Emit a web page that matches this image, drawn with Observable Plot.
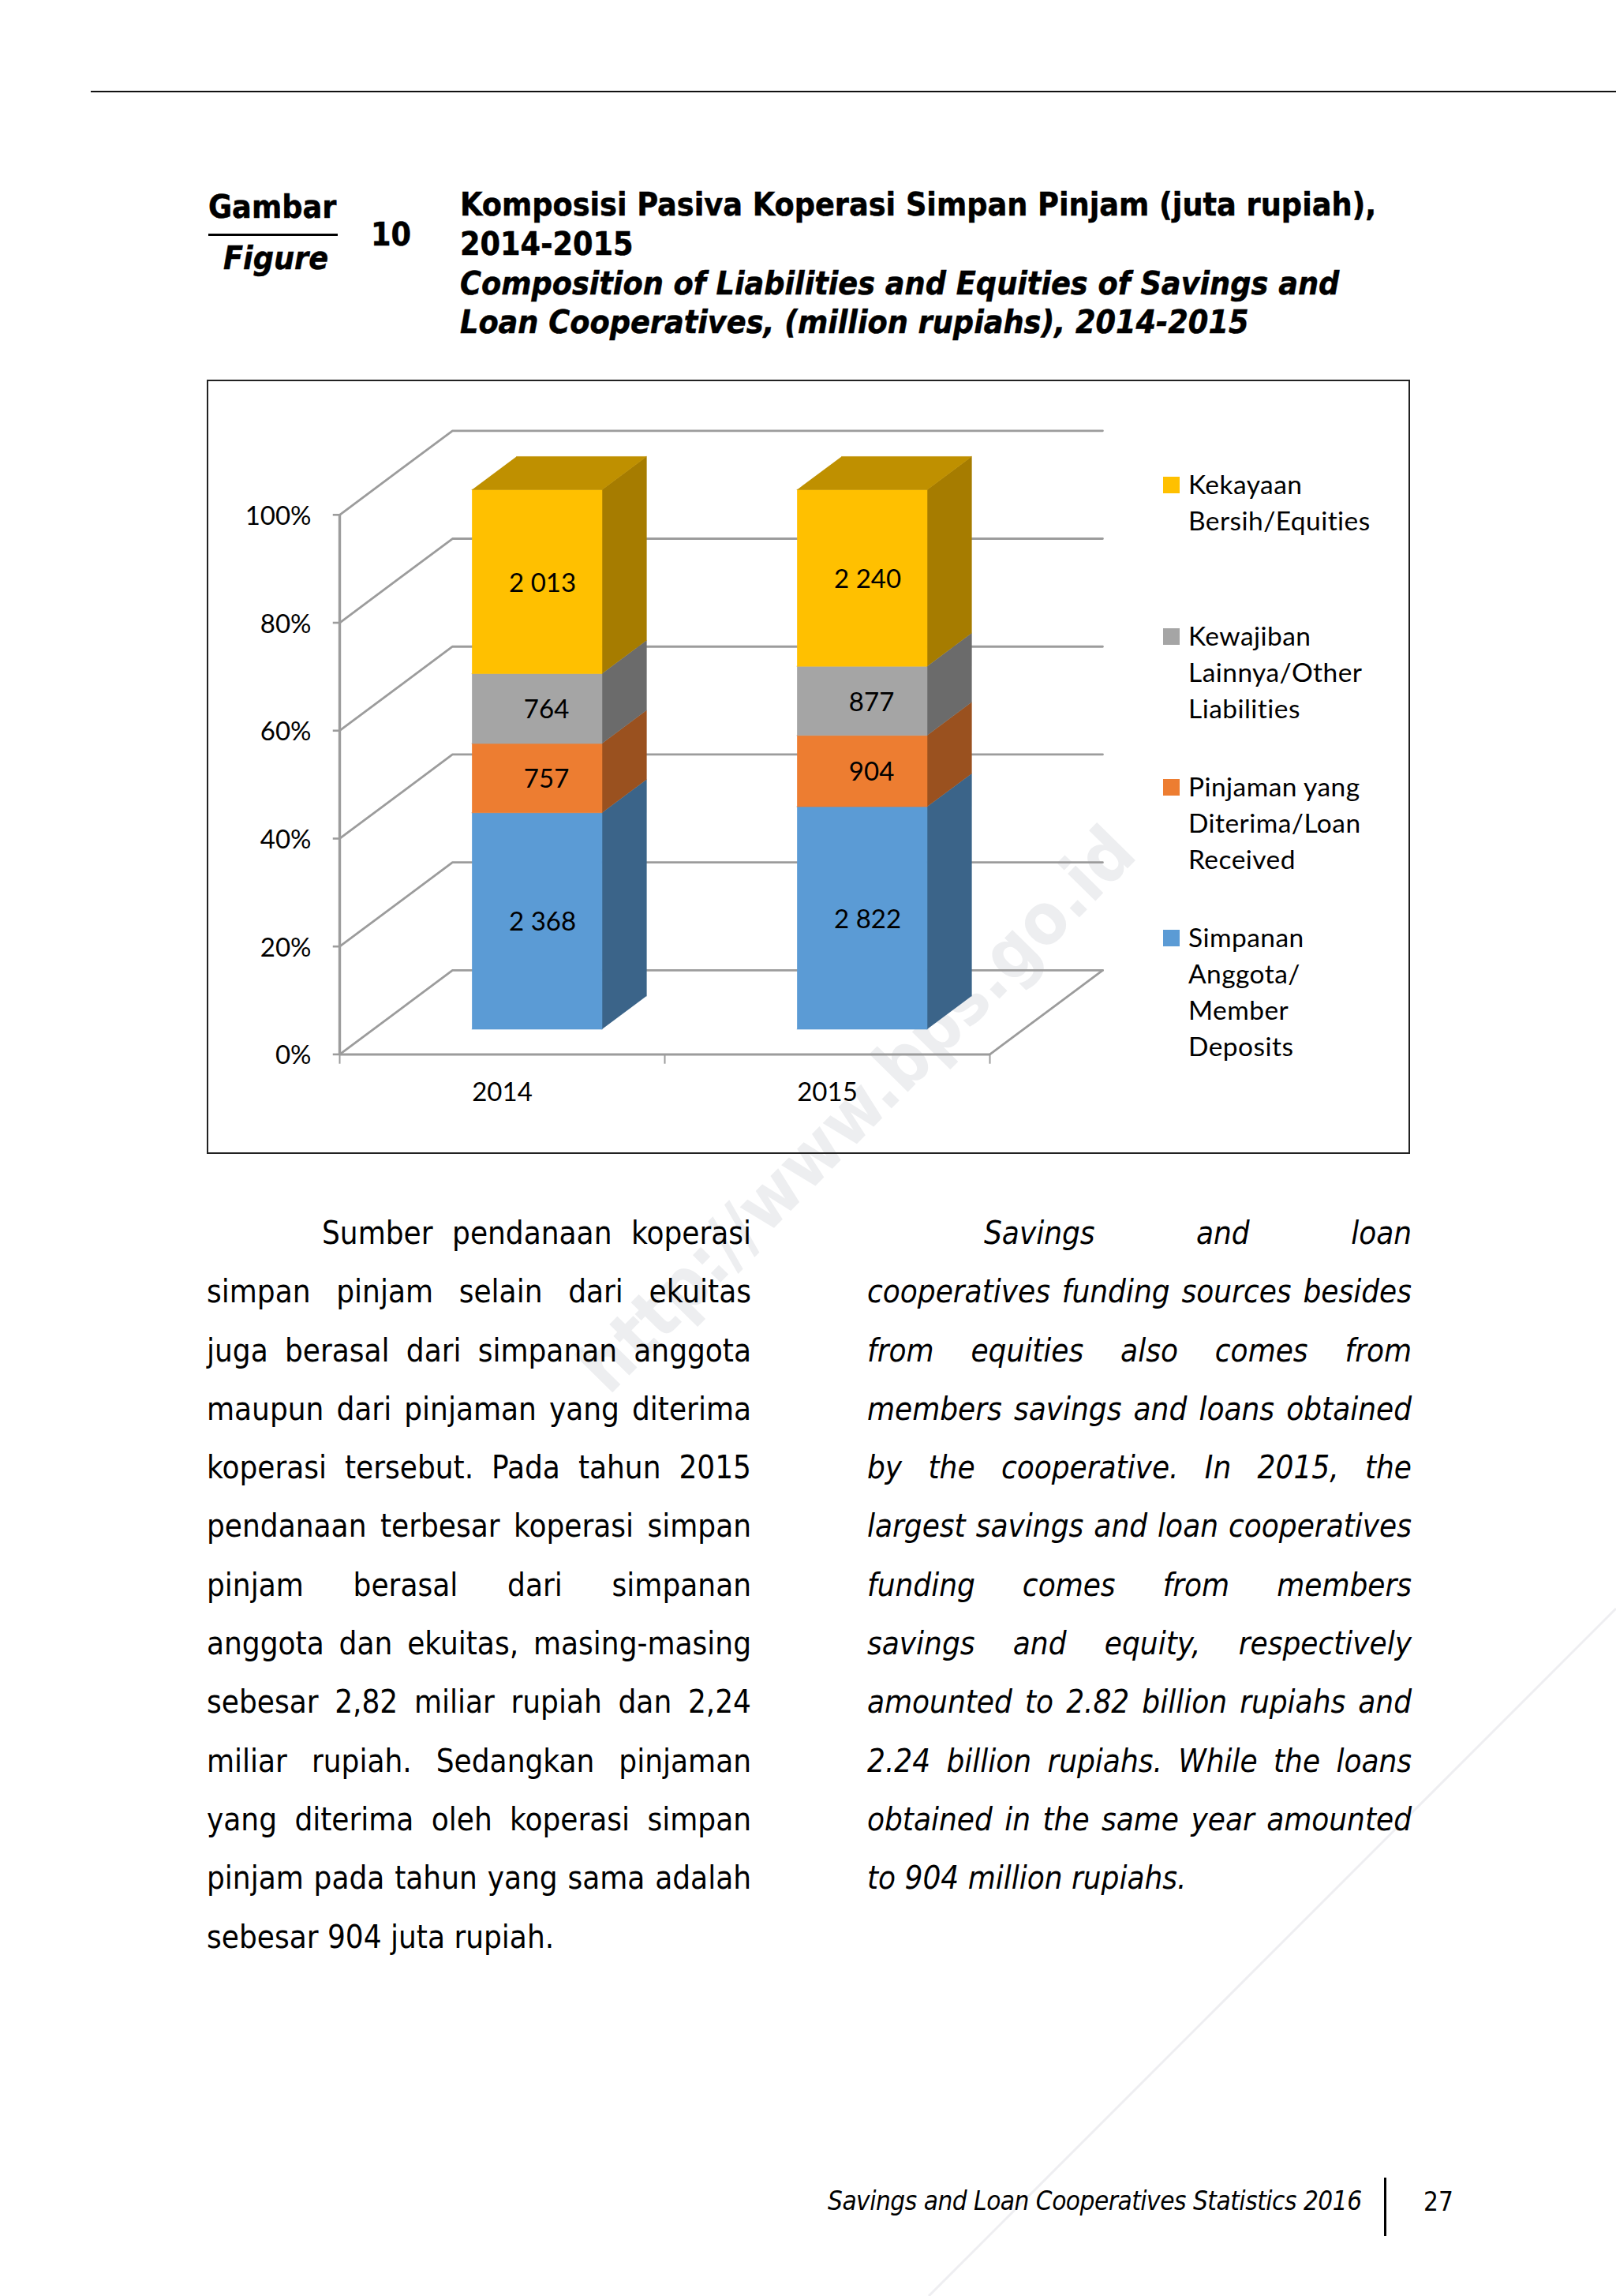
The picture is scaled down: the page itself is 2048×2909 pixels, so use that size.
<!DOCTYPE html>
<html><head><meta charset="utf-8">
<script src="https://cdn.jsdelivr.net/npm/d3@7"></script>
<script src="https://cdn.jsdelivr.net/npm/@observablehq/plot@0.6"></script>
<style>
html,body{margin:0;padding:0;background:#fff;}
#page{position:relative;width:2048px;height:2909px;overflow:hidden;background:#fff;color:#000;font-family:"DejaVu Sans Condensed","DejaVu Sans";}
#page>*{position:absolute;}
.t{white-space:nowrap;line-height:1;}
.b{font-weight:700;font-size:40.8px;-webkit-text-stroke:0.5px #000;}
.col{font-size:40px;line-height:74.3px;}
.col div{white-space:nowrap;text-align:justify;text-align-last:justify;}
.col div.last{text-align-last:left;}
.i{font-style:italic;}
#wm{left:1085px;top:1405px;transform:translate(-50%,-50%) rotate(-45.5deg);font:700 90px "DejaVu Sans Condensed","DejaVu Sans";color:#edeef0;white-space:nowrap;}
#chart{left:262px;top:481px;width:1521px;height:977px;border:2px solid #222;}
#chart svg{position:absolute;left:0;top:0;overflow:visible;background:transparent;}
#legend{left:0;top:0;font-family:Lato;font-size:33.5px;letter-spacing:0.45px;line-height:46px;color:#000;}
.leg{position:absolute;left:1506px;white-space:nowrap;}
.sw{position:absolute;left:1474px;width:21px;height:21px;}
</style></head>
<body><div id="page">
<svg id="diag" width="2048" height="2909" style="left:0;top:0"><line x1="2048" y1="2038" x2="1177" y2="2909" stroke="#eeeef1" stroke-width="3"/></svg>
<div id="wm">http://www.bps.go.id</div>
<div style="left:115px;top:115px;width:1933px;height:2px;background:#111"></div>
<div class="t b" style="left:264px;top:242px">Gambar</div>
<div style="left:264px;top:296px;width:164px;height:3px;background:#000"></div>
<div class="t b i" style="left:283px;top:307px">Figure</div>
<div class="t b" style="left:470px;top:277px">10</div>
<div class="t b" style="left:583px;top:239px">Komposisi Pasiva Koperasi Simpan Pinjam (juta rupiah),</div>
<div class="t b" style="left:583px;top:289px">2014-2015</div>
<div class="t b i" style="left:583px;top:339px">Composition of Liabilities and Equities of Savings and</div>
<div class="t b i" style="left:583px;top:388px">Loan Cooperatives, (million rupiahs), 2014-2015</div>
<div id="chart"></div>
<div id="legend"></div>
<div class="col" id="colL" style="left:262px;top:1525px;width:690px"></div>
<div class="col i" id="colR" style="left:1099px;top:1525px;width:690px"></div>
<div class="t i" style="left:1049px;top:2772px;font-size:33px;letter-spacing:-0.47px">Savings and Loan Cooperatives Statistics 2016</div>
<div style="left:1754px;top:2759px;width:3px;height:74px;background:#000"></div>
<div class="t" style="left:1804px;top:2773px;font-size:33px">27</div>
</div>
<script>
const years = ["2014", "2015"];
const seriesNames = ["Simpanan Anggota", "Pinjaman yang Diterima", "Kewajiban Lainnya", "Kekayaan Bersih"];
const values2014 = [2368, 757, 764, 2013];
const values2015 = [2822, 904, 877, 2240];
const labels2014 = ["2 368", "757", "764", "2 013"];
const labels2015 = ["2 822", "904", "877", "2 240"];
const frontColors = ["#5b9bd5", "#ed7d31", "#a5a5a5", "#ffc000"];
const sideColors = ["#3b6489", "#9a511f", "#6b6b6b", "#a67c00"];
const topColor = "#bf9000";
const percentTicks = [0, 20, 40, 60, 80, 100];
const categoryTicks = [0, 1, 2];
const legendEntries = [
  {lines: ["Kekayaan", "Bersih/Equities"], color: "#ffc000", top: 590},
  {lines: ["Kewajiban", "Lainnya/Other", "Liabilities"], color: "#a5a5a5", top: 782},
  {lines: ["Pinjaman yang", "Diterima/Loan", "Received"], color: "#ed7d31", top: 973},
  {lines: ["Simpanan", "Anggota/", "Member", "Deposits"], color: "#5b9bd5", top: 1164}
];
const bodyLeft = ["Sumber pendanaan koperasi","simpan pinjam selain dari ekuitas","juga berasal dari simpanan anggota","maupun dari pinjaman yang diterima","koperasi tersebut. Pada tahun 2015","pendanaan terbesar koperasi simpan","pinjam berasal dari simpanan","anggota dan ekuitas, masing-masing","sebesar 2,82 miliar rupiah dan 2,24","miliar rupiah. Sedangkan pinjaman","yang diterima oleh koperasi simpan","pinjam pada tahun yang sama adalah","sebesar 904 juta rupiah."];
const bodyRight = ["Savings and loan","cooperatives funding sources besides","from equities also comes from","members savings and loans obtained","by the cooperative. In 2015, the","largest savings and loan cooperatives","funding comes from members","savings and equity, respectively","amounted to 2.82 billion rupiahs and","2.24 billion rupiahs. While the loans","obtained in the same year amounted","to 904 million rupiahs."];

function fillCol(id, lines, indent){
  const el = document.getElementById(id);
  lines.forEach((s,i)=>{
    const d = document.createElement("div");
    d.textContent = s;
    if(i===0) d.style.paddingLeft = indent+"px";
    if(i===lines.length-1) d.className="last";
    el.appendChild(d);
  });
}
fillCol("colL", bodyLeft, 146);
fillCol("colR", bodyRight, 148);

const legend = document.getElementById("legend");
legendEntries.forEach(e=>{
  const sw = document.createElement("div"); sw.className="sw"; sw.style.top=(e.top+14)+"px"; sw.style.background=e.color; legend.appendChild(sw);
  const t = document.createElement("div"); t.className="leg"; t.style.top=e.top+"px"; t.innerHTML=e.lines.join("<br>"); legend.appendChild(t);
});

// oblique projection of (category position, percent, depth) into the two plot scales
const depthX = 0.347, depthY = 15.58;
const proj = (c, p, d) => ({x: c + d * depthX, y: p + d * depthY});
const barDepth0 = 0.2995, barDepth1 = 0.6935, barHalf = 0.2;
const barCenters = [0.503, 1.503];

const gridPts = [];
percentTicks.forEach(p=>{
  [[0,p,0],[0,p,1],[2,p,1]].forEach(q=>gridPts.push({...proj(...q), id:"g"+p}));
});
[[2,0,0],[2,0,1]].forEach(q=>gridPts.push({...proj(...q), id:"floor"}));

const polys = [];
const labels = [];
[values2014, values2015].forEach((vals, yi)=>{
  const total = d3.sum(vals);
  const c = barCenters[yi];
  const txt = yi===0 ? labels2014 : labels2015;
  let acc = 0;
  vals.forEach((v,si)=>{
    const p0 = acc/total*100, p1 = (acc+v)/total*100; acc += v;
    const L=c-barHalf, R=c+barHalf, id=`${yi}-${si}`;
    [[R,p0,barDepth0],[R,p1,barDepth0],[R,p1,barDepth1],[R,p0,barDepth1]].forEach(q=>polys.push({...proj(...q), id:id+"s", color:sideColors[si]}));
    [[L,p0,barDepth0],[R,p0,barDepth0],[R,p1,barDepth0],[L,p1,barDepth0]].forEach(q=>polys.push({...proj(...q), id:id+"f", color:frontColors[si]}));
    if(si===vals.length-1) [[L,p1,barDepth0],[R,p1,barDepth0],[R,p1,barDepth1],[L,p1,barDepth1]].forEach(q=>polys.push({...proj(...q), id:id+"t", color:topColor}));
    labels.push({...proj(c,(p0+p1)/2,barDepth0), text:txt[si]});
  });
});

const chartFont = "Lato";
const labelStyle = {x:"x", y:"y", text:"text", fontSize:33, fontFamily:chartFont, fill:"#000", textAnchor:"middle", lineAnchor:"middle", dy:2};
const plot = Plot.plot({
  width: 1521, height: 977,
  marginLeft: 0, marginRight: 0, marginTop: 0, marginBottom: 0,
  x: {type:"linear", domain:[0,2], range:[166,990], axis:null},
  y: {type:"linear", domain:[0,100], range:[852.4,168.8], axis:null},
  color: {type:"identity"},
  style: {background:"transparent", overflow:"visible"},
  marks: [
    Plot.line(gridPts, {x:"x", y:"y", z:"id", stroke:"#9c9c9c", strokeWidth:2.8, curve:"linear"}),
    Plot.ruleX([0], {y1:0, y2:100, stroke:"#9c9c9c", strokeWidth:3.4}),
    Plot.ruleY([0], {x1:0, x2:2, stroke:"#9c9c9c", strokeWidth:3}),
    Plot.ruleY(percentTicks, {x1:-0.02, x2:0, stroke:"#9c9c9c", strokeWidth:2.6}),
    Plot.ruleX(categoryTicks, {y1:0, y2:-1.8, stroke:"#9c9c9c", strokeWidth:2}),
    Plot.line(polys, {x:"x", y:"y", z:"id", fill:"color", stroke:"color", strokeWidth:0.6, curve:"linear"}),
    Plot.text(labels.filter(d=>d.text.length>3), {...labelStyle, dx:7}),
    Plot.text(labels.filter(d=>d.text.length<=3), {...labelStyle, dx:12}),
    Plot.text(percentTicks, {x:()=>0, y:d=>d, text:d=>d+"%", dx:-36, dy:2, textAnchor:"end", lineAnchor:"middle", fontSize:33, fontFamily:chartFont, fill:"#000"}),
    Plot.text(years, {x:[0.5,1.5], y:()=>0, text:d=>d, dy:49, textAnchor:"middle", lineAnchor:"middle", fontSize:33, fontFamily:chartFont, fill:"#000"})
  ]
});
document.getElementById("chart").appendChild(plot);
</script>
</body></html>
